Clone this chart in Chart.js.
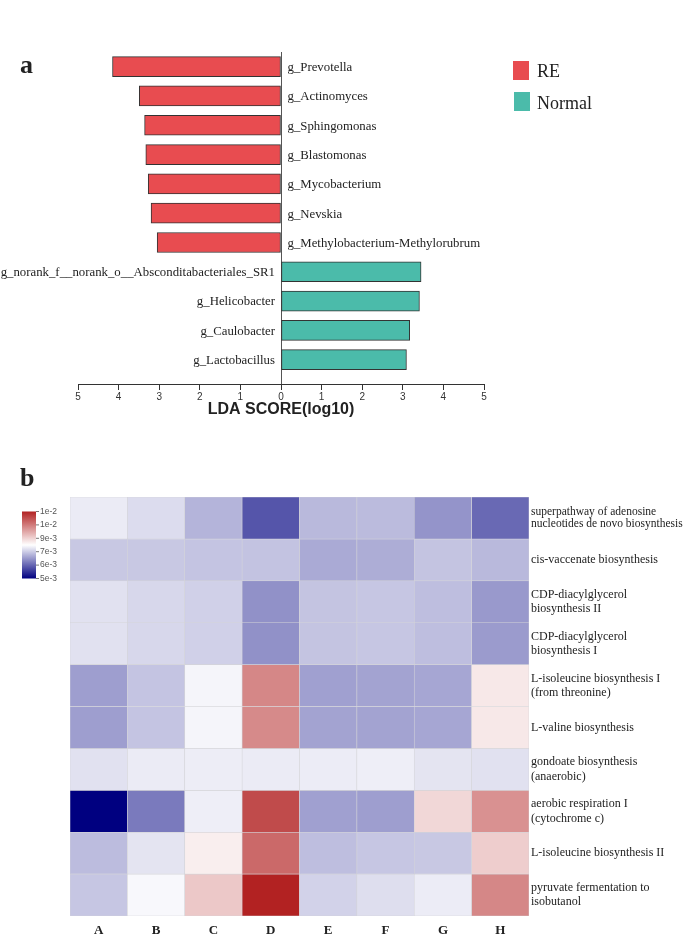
<!DOCTYPE html>
<html>
<head>
<meta charset="utf-8">
<script src="https://cdn.jsdelivr.net/npm/chart.js@4.4.1/dist/chart.umd.min.js"></script>
<style>
  html, body { margin: 0; padding: 0; background: #fff; }
  #page { position: relative; width: 685px; height: 937px; overflow: hidden;
          font-family: "Liberation Serif", "Times New Roman", serif; color: #222; }
  .panel { position: absolute; left: 20px; font-weight: bold; font-size: 26px; line-height: 26px; }
  .swatch { position: absolute; width: 16px; height: 19px; }
  .legtext { position: absolute; left: 537px; font-size: 18px; line-height: 18px; }
  #ldaChart { position: absolute; left: 0; top: 0; }
  #heatChart { position: absolute; left: 0; top: 480px; }
</style>
</head>
<body>
<div id="page">
  <canvas id="ldaChart" width="685" height="423"></canvas>
  <canvas id="heatChart" width="685" height="457"></canvas>
  <div class="panel" style="top:52px">a</div>
  <div class="panel" style="top:465px">b</div>
  <div class="swatch" style="left:513px;top:61px;background:#e84c50"></div>
  <div class="legtext" style="top:62px">RE</div>
  <div class="swatch" style="left:514px;top:92px;background:#4bbbaa"></div>
  <div class="legtext" style="top:94px">Normal</div>
</div>
<script>
(function () {
  "use strict";

  // --- panel a: LDA scores ---
  var reGenera = ["g_Prevotella", "g_Actinomyces", "g_Sphingomonas", "g_Blastomonas",
                  "g_Mycobacterium", "g_Nevskia", "g_Methylobacterium-Methylorubrum"];
  var reScores = [4.15, 3.49, 3.36, 3.33, 3.27, 3.20, 3.05];
  var normalGenera = ["g_norank_f__norank_o__Absconditabacteriales_SR1", "g_Helicobacter",
                      "g_Caulobacter", "g_Lactobacillus"];
  var normalScores = [3.45, 3.41, 3.17, 3.09];

  // --- panel b: pathway abundance heatmap ---
  var samples = ["A", "B", "C", "D", "E", "F", "G", "H"];
  var pathways = [
    ["superpathway of adenosine", "nucleotides de novo biosynthesis"],
    ["cis-vaccenate biosynthesis"],
    ["CDP-diacylglycerol", "biosynthesis II"],
    ["CDP-diacylglycerol", "biosynthesis I"],
    ["L-isoleucine biosynthesis I", "(from threonine)"],
    ["L-valine biosynthesis"],
    ["gondoate biosynthesis", "(anaerobic)"],
    ["aerobic respiration I", "(cytochrome c)"],
    ["L-isoleucine biosynthesis II"],
    ["pyruvate fermentation to", "isobutanol"]
  ];
  var adenosineSuper = [7.76e-3, 7.59e-3, 7.12e-3, 6.00e-3, 7.18e-3, 7.20e-3, 6.74e-3, 6.24e-3];
  var cisVaccenate   = [7.35e-3, 7.35e-3, 7.31e-3, 7.29e-3, 7.00e-3, 7.04e-3, 7.30e-3, 7.18e-3];
  var cdpDagII       = [7.65e-3, 7.53e-3, 7.45e-3, 6.71e-3, 7.30e-3, 7.33e-3, 7.24e-3, 6.80e-3];
  var cdpDagI        = [7.65e-3, 7.53e-3, 7.45e-3, 6.70e-3, 7.30e-3, 7.33e-3, 7.24e-3, 6.82e-3];
  var isoleucineI    = [6.86e-3, 7.31e-3, 7.88e-3, 9.63e-3, 6.88e-3, 6.92e-3, 6.95e-3, 8.31e-3];
  var valine         = [6.86e-3, 7.31e-3, 7.88e-3, 9.59e-3, 6.92e-3, 6.92e-3, 6.95e-3, 8.31e-3];
  var gondoate       = [7.65e-3, 7.76e-3, 7.79e-3, 7.76e-3, 7.78e-3, 7.80e-3, 7.68e-3, 7.65e-3];
  var aerobicResp    = [5.00e-3, 6.43e-3, 7.80e-3, 1.044e-2, 6.88e-3, 6.86e-3, 8.54e-3, 9.49e-3];
  var isoleucineII   = [7.21e-3, 7.68e-3, 8.23e-3, 1.004e-2, 7.24e-3, 7.33e-3, 7.35e-3, 8.68e-3];
  var pyruvateIsobut = [7.33e-3, 7.92e-3, 8.75e-3, 1.10e-2, 7.47e-3, 7.61e-3, 7.78e-3, 9.63e-3];
  var heatRows = [adenosineSuper, cisVaccenate, cdpDagII, cdpDagI, isoleucineI,
                  valine, gondoate, aerobicResp, isoleucineII, pyruvateIsobut];
  var colorTicks = [1.1e-2, 9.8e-3, 8.6e-3, 7.4e-3, 6.2e-3, 5e-3];
  var vMin = 5e-3, vMid = 8e-3, vMax = 1.1e-2;

  function mix(a, b, t) {
    return "rgb(" + [0, 1, 2].map(function (k) {
      return Math.round(a[k] + (b[k] - a[k]) * t);
    }).join(",") + ")";
  }
  function heatColor(v) {
    var white = [255, 255, 255];
    if (v <= vMid) return mix(white, [0, 0, 128], Math.min(1, (vMid - v) / (vMid - vMin)));
    return mix(white, [178, 34, 34], Math.min(1, (v - vMid) / (vMax - vMid)));
  }

  var barLabels = {
    id: "barLabels",
    afterDatasetsDraw: function (chart) {
      var ctx = chart.ctx;
      var x0 = chart.scales.x.getPixelForValue(0);
      ctx.save();
      ctx.font = '12.8px "Liberation Serif", serif';
      ctx.fillStyle = "#222";
      ctx.textBaseline = "middle";
      ctx.textAlign = "left";
      chart.getDatasetMeta(0).data.forEach(function (bar, i) {
        ctx.fillText(reGenera[i], x0 + 6.5, bar.y + 1);
      });
      ctx.textAlign = "right";
      chart.getDatasetMeta(1).data.forEach(function (bar, i) {
        ctx.fillText(normalGenera[i], x0 - 6, bar.y + 1);
      });
      ctx.restore();
    }
  };

  new Chart(document.getElementById("ldaChart"), {
    type: "bar",
    data: {
      datasets: [
        {
          label: "RE",
          data: reScores.map(function (s, i) { return { x: -s, y: i }; }),
          backgroundColor: "#e84c50", borderColor: "#333", borderWidth: 1,
          borderSkipped: false, grouped: false, barThickness: 20
        },
        {
          label: "Normal",
          data: normalScores.map(function (s, i) { return { x: s, y: reGenera.length + i }; }),
          backgroundColor: "#4bbbaa", borderColor: "#333", borderWidth: 1,
          borderSkipped: false, grouped: false, barThickness: 20
        }
      ]
    },
    options: {
      indexAxis: "y",
      responsive: false,
      animation: false,
      layout: { padding: { left: 78, right: 201, top: 52, bottom: 0 } },
      plugins: { legend: { display: false }, tooltip: { enabled: false } },
      scales: {
        x: {
          type: "linear", min: -5, max: 5,
          ticks: {
            stepSize: 1, padding: 1, color: "#333",
            font: { family: "Liberation Sans", size: 10 },
            callback: function (v) { return Math.abs(v); }
          },
          grid: {
            color: function (c) { return c.tick && c.tick.value === 0 ? "#555" : "rgba(0,0,0,0)"; },
            tickColor: "#333", tickLength: 6
          },
          border: { color: "#333" },
          title: {
            display: true, text: "LDA SCORE(log10)", color: "#222",
            font: { family: "Liberation Sans", size: 16, weight: "bold" },
            padding: { top: 4, bottom: 4 }
          },
          afterFit: function (s) { s.height = 39; }
        },
        y: { type: "linear", reverse: true, min: -0.5, max: 10.83, offset: false, display: false }
      }
    },
    plugins: [barLabels]
  });

  var colorBar = {
    id: "colorBar",
    afterDraw: function (chart) {
      var ctx = chart.ctx;
      var top = 31.5, bottom = 98.5, left = 22, right = 36;
      var g = ctx.createLinearGradient(0, bottom, 0, top);
      [0, 0.5, 1].forEach(function (f) {
        g.addColorStop(f, heatColor(vMin + f * (vMax - vMin)));
      });
      ctx.save();
      ctx.fillStyle = g;
      ctx.fillRect(left, top, right - left, bottom - top);
      ctx.strokeStyle = "#777";
      ctx.lineWidth = 1;
      ctx.fillStyle = "#555";
      ctx.font = '8.5px "Liberation Sans", sans-serif';
      ctx.textBaseline = "middle";
      ctx.textAlign = "left";
      colorTicks.forEach(function (v) {
        var y = bottom - (v - vMin) / (vMax - vMin) * (bottom - top);
        ctx.beginPath();
        ctx.moveTo(right, y);
        ctx.lineTo(right + 3, y);
        ctx.stroke();
        ctx.fillText(v.toExponential(0), right + 4, y);
      });
      ctx.restore();
    }
  };

  new Chart(document.getElementById("heatChart"), {
    type: "bar",
    data: {
      labels: samples,
      datasets: heatRows.map(function (row, r) {
        return {
          label: pathways[r].join(" "),
          data: samples.map(function () { return 1; }),
          backgroundColor: row.map(heatColor),
          borderColor: "#d4d4d8", borderWidth: 0.6, borderSkipped: false,
          categoryPercentage: 1, barPercentage: 1
        };
      })
    },
    options: {
      responsive: false,
      animation: false,
      layout: { padding: { left: 70, top: 17, right: 0, bottom: 0 } },
      plugins: { legend: { display: false }, tooltip: { enabled: false } },
      scales: {
        x: {
          stacked: true,
          grid: { display: false, drawTicks: false, tickLength: 0 }, border: { display: false },
          ticks: { padding: 7, color: "#222",
                   font: { family: "Liberation Serif", size: 13, weight: "bold" } },
          afterFit: function (s) { s.height = 21; }
        },
        y: {
          stacked: true, position: "right", reverse: true, min: 0, max: 10,
          grid: { display: false, drawTicks: false, tickLength: 0 }, border: { display: false },
          afterBuildTicks: function (s) {
            s.ticks = pathways.map(function (p, i) { return { value: i + 0.5 }; });
          },
          ticks: {
            autoSkip: false, padding: 2, color: "#222",
            // the first (longest) label is set a little smaller and tighter
            font: function (c) {
              return c.index === 0
                ? { family: "Liberation Serif", size: 11.5, lineHeight: 1.0 }
                : { family: "Liberation Serif", size: 12, lineHeight: 1.2 };
            },
            callback: function (v, i) { return pathways[i]; }
          },
          afterFit: function (s) { s.width = 156; }
        }
      }
    },
    plugins: [colorBar]
  });
})();
</script>
</body>
</html>
